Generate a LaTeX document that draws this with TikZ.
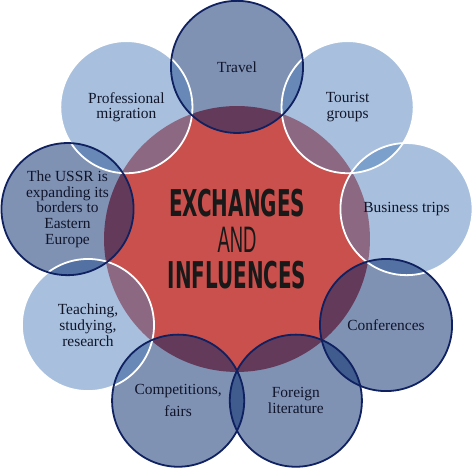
\documentclass[tikz,border=0pt]{standalone}
\usepackage{fontspec}
\setmainfont{Liberation Serif}
\newfontfamily\hubfont[FakeStretch=0.54]{DejaVu Sans}
\newfontfamily\andfont[FakeStretch=0.5]{Liberation Sans}
\usepackage{tikz}
\usetikzlibrary{shapes, arrows}
\usetikzlibrary{positioning}

\definecolor{hubred}{HTML}{C9504C}
\definecolor{paleblue}{RGB}{81,129,187}
\definecolor{deepblue}{RGB}{1,37,105}
\definecolor{rimnavy}{HTML}{0F2160}
\definecolor{inktext}{HTML}{10152A}

\tikzset{
  hub/.style={circle, fill=hubred, minimum size=9.38cm, align=center,
    font=\fontsize{37}{36}\selectfont, text=black!90},
  pale/.style={circle, fill=paleblue, fill opacity=0.5, text opacity=1,
    minimum size=4.66cm, align=center, text=inktext,
    font=\fontsize{15.5}{15.8}\selectfont},
  deep/.style={pale, fill=deepblue},
  palerim/.style={white, line width=1.8pt},
  deeprim/.style={rimnavy, line width=1.8pt}
}

\begin{document}
\begin{tikzpicture}
\useasboundingbox (-8.36,-8.11) rectangle (8.36,8.43);

\node[hub] (hub) at (0,0)
{{\hubfont\bfseries EXCHANGES}\\ {\andfont AND}\\ {\hubfont\bfseries INFLUENCES}};

\node[deep] (travel) at (90:6.07) {Travel};
\node[pale] (tourist) at (50:6.07) {Tourist\\ groups};
\node[pale] (business) at (10:6.07) {Business trips};
\node[deep] (conferences) at (-30:6.07) {Conferences};
\node[deep] (literature) at (-70:6.07) {Foreign\\ literature};
\node[deep] (competitions) at (-110:6.07) {Competitions,\\[6pt] fairs};
\node[pale] (teaching) at (-150:6.07) {Teaching,\\ studying,\\ research};
\node[deep] (ussr) at (170:6.07) {The USSR is\\ expanding its\\ borders to\\ Eastern\\ Europe};
\node[pale] (migration) at (130:6.07) {Professional\\ migration};

% rims on top of all fills
\foreach \n in {tourist, business, teaching, migration}
  \draw[palerim] (\n.center) circle (2.33);
\foreach \n in {travel, conferences, literature, competitions, ussr}
  \draw[deeprim] (\n.center) circle (2.33);

\end{tikzpicture}
\end{document}
